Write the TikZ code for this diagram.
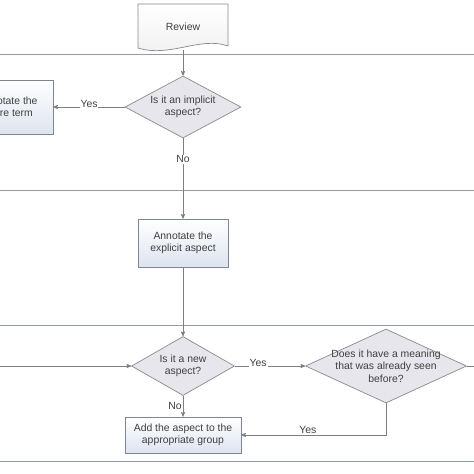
\documentclass[tikz,border=0pt]{standalone}
\usepackage{fontspec}
\setmainfont{Liberation Sans}
\usetikzlibrary{arrows,shapes.geometric,positioning}

\definecolor{lanecol}{HTML}{8E9DB0}
\definecolor{boxline}{HTML}{7B8797}
\definecolor{boxbot}{HTML}{DDE4EF}
\definecolor{decfill}{HTML}{E7E6ED}
\definecolor{decline}{HTML}{8A8A8A}
\definecolor{flowcol}{HTML}{7F7F7F}
\definecolor{txtcol}{HTML}{404040}

\tikzset{
  process/.style={rectangle, draw=boxline, top color=white, bottom color=boxbot, align=center, inner sep=2pt, minimum width=90pt},
  decision/.style={diamond, draw=decline, fill=decfill, inner sep=0pt},
  dtext/.style={align=center, inner sep=0pt, text=txtcol},
  lbl/.style={fill=white, inner sep=1pt, text=txtcol},
  lane/.style={-, draw=lanecol, line width=0.8pt}
}

\begin{document}
\begin{tikzpicture}[x=1pt,y=-1pt,->,>=stealth',line width=0.7pt,draw=flowcol,font=\fontsize{10.4}{12.5}\selectfont,text=txtcol]
\clip (0,0) rectangle (474,474);
\fill[white] (0,0) rectangle (474,474);

% swimlanes
\foreach \y in {54,190,325,461}
  \draw[lane] (0,\y) -- (474,\y);

% document
\draw[-, draw=decline, top color=white, bottom color=gray!12] (138,4) -- (228,4) -- (228,46)
  .. controls (200,36) and (170,58) .. (138,48) -- cycle;
\node (review) at (183,27) {Review};
\coordinate (reviewend) at (183,50);

% nodes
\node[decision, minimum width=116pt, minimum height=62pt,
  label={[dtext]center:Is it an implicit\\aspect?}] (implicit) at (183,107) {};
\node[process, minimum height=54pt] (entire) at (8,107) {Annotate the\\entire term};
\node[process, minimum height=48pt] (explicit) at (183,243) {Annotate the\\explicit aspect};
\node[decision, minimum width=103pt, minimum height=59pt,
  label={[dtext]center:Is it a new\\aspect?}] (newasp) at (183,366) {};
\node[decision, minimum width=161pt, minimum height=74pt,
  label={[dtext]center:Does it have a meaning\\that was already seen\\before?}] (seen) at (386,366) {};
\node[process, minimum width=116pt, minimum height=36pt] (group) at (183,435) {Add the aspect to the\\appropriate group};
\coordinate (entry) at (-5,366);
\coordinate (exit) at (480,366);

% connectors
\draw (reviewend) -- (implicit.north);
\draw (implicit.west) -- node[lbl, yshift=3pt] {Yes} (entire.east);
\draw (implicit.south) -- node[lbl, pos=0.26] {No} (explicit.north);
\draw (explicit.south) -- (newasp.north);
\draw (entry) -- (newasp.west);
\draw (newasp.east) -- node[lbl, pos=0.33, yshift=3pt] {Yes} (seen.west);
\draw[-] (seen.east) -- (exit);
\draw (newasp.south) -- node[left, inner sep=1pt] {No} (group.north);
\draw (seen.south) |- node[pos=0.77, above, inner sep=1pt] {Yes} (group.east);
\end{tikzpicture}
\end{document}
